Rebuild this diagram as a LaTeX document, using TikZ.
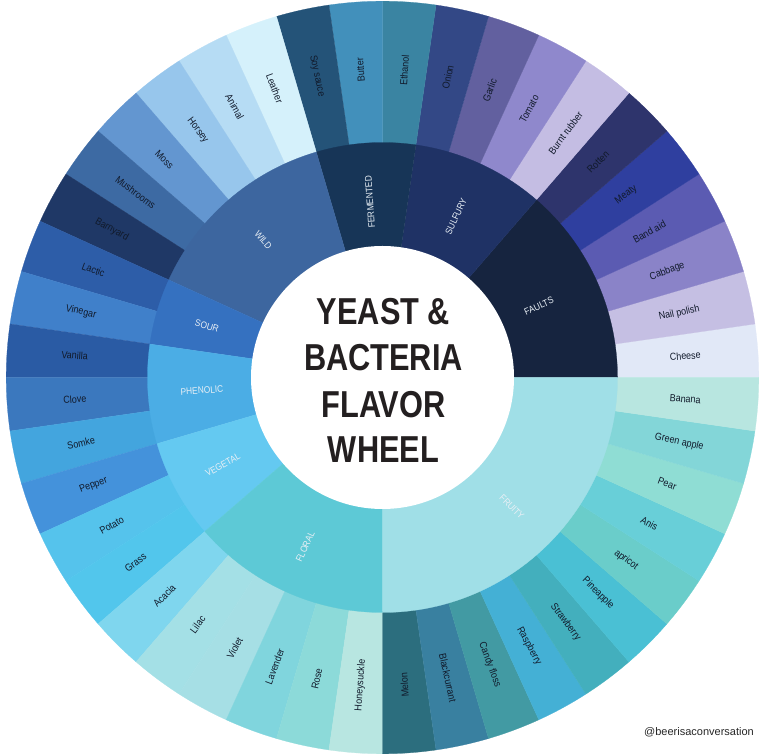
\documentclass[tikz,border=0pt]{standalone}
\usepackage{fontspec}
\setmainfont{Liberation Sans}
\newfontfamily\labelfont[FakeStretch=0.88]{Liberation Sans}
\newfontfamily\titlefont[FakeStretch=0.82]{Liberation Sans Bold}
\newfontfamily\creditfont{Liberation Sans}
\definecolor{labelink}{HTML}{111A2B}
\definecolor{innerink}{HTML}{E8EFF5}
\definecolor{titleink}{HTML}{231F20}
\tikzset{
  outerlabel/.style={font=\labelfont\fontsize{10.2}{12}\selectfont,text=labelink,inner sep=0pt},
  innerlabel/.style={font=\labelfont\fontsize{9.5}{12}\selectfont,text=innerink,inner sep=0pt},
  titleline/.style={font=\titlefont\fontsize{37.5}{40}\selectfont,text=titleink,inner sep=0pt,anchor=center},
  credit/.style={font=\creditfont\fontsize{11}{12}\selectfont,text=black!85,inner sep=0pt},
  hole/.style={fill=white}
}
\newcommand{\wedgefill}[5]{% color, from, to, r1, r2
  \definecolor{wc}{HTML}{#1}
  \path[fill=wc,draw=wc,line width=.25pt] (#2:#4pt) arc[start angle=#2,end angle=#3,radius=#4pt]
     -- (#3:#5pt) arc[start angle=#3,end angle=#2,radius=#5pt] -- cycle;
}
\begin{document}
\begin{tikzpicture}[x=1pt,y=1pt]
\useasboundingbox (0,0) rectangle (768,755);
\begin{scope}[shift={(382.5,377.5)}]
  % outer ring
  \foreach \lab/\col [count=\i from 0] in {
    Cheese/E1E8F7,Nail polish/C5BFE3,Cabbage/8A83C8,Band aid/5B5BB2,Meaty/2F3F9F,Rotten/2E346C,
    Burnt rubber/C4BDE3,Tomato/8F88CC,Garlic/62609F,Onion/334886,
    Ethanol/3A84A2,Butter/4290BB,Soy sauce/245378,
    Leather/D5F1FB,Animal/B6DCF4,Horsey/97C6EC,Moss/6396D0,Mushrooms/3D6AA3,Barnyard/1F3866,
    Lactic/2D5DA8,Vinegar/4080CA,
    Vanilla/2A5BA4,Clove/3B78BE,Somke/43A5DE,Pepper/4492DB,
    Potato/55C3EC,Grass/52C6EC,
    Acacia/7FD6EE,Lilac/A4E0E6,Violet/A6DFE5,Lavender/80D5DD,Rose/8CDAD9,Honeysuckle/B8E6E1,
    Melon/2C6E7E,Blackcurrant/3980A0,Candy floss/429AA3,Raspberry/44B0D5,Strawberry/43AFBD,
    Pineapple/4AC0D4,apricot/6ACDCA,Anis/68CFD8,Pear/8FDDD4,Green apple/83D6D8,Banana/B8E6E0}
  {
    \pgfmathsetmacro\aa{\i*360/44}
    \pgfmathsetmacro\bb{(\i+1)*360/44}
    \pgfmathsetmacro\mm{(\i+.5)*360/44}
    \pgfmathsetmacro\rot{\mm<98?\mm:(\mm<278?\mm-180:\mm-360)}
    \pgfmathsetmacro\rr{308.5-5*max(cos(\mm),0)}
    \wedgefill{\col}{\aa}{\bb}{234}{376.3}
    \node[outerlabel,rotate=\rot] (o\i) at (\mm:\rr pt) {\lab};
  }
  % middle ring
  \foreach \lab/\col/\from/\n/\rad in {
    FAULTS/16243F/0/6/172,SULFURY/1F3265/6/4/177,FERMENTED/173557/10/3/176,WILD/3D669F/13/6/182,
    SOUR/3571C0/19/2/183,PHENOLIC/4BADE5/21/3/181,VEGETAL/64C9F1/24/3/182,FLORAL/5DC9D6/27/6/186,
    FRUITY/A0DFE7/33/11/183}
  {
    \pgfmathsetmacro\aa{\from*360/44}
    \pgfmathsetmacro\bb{(\from+\n)*360/44}
    \pgfmathsetmacro\mm{(\from+\n/2)*360/44}
    \pgfmathsetmacro\rot{\mm<98?\mm:(\mm<278?\mm-180:\mm-360)}
    \wedgefill{\col}{\aa}{\bb}{120}{235}
    \node[innerlabel,rotate=\rot] (\lab) at (\mm:\rad pt) {\lab};
  }
  % centre
  \path[hole] (0,0) circle[radius=131.5pt];
  \node[titleline] (t1) at (1,65.5) {YEAST \&};
  \node[titleline] (t2) at (1,19.5) {BACTERIA};
  \node[titleline] (t3) at (1,-27.5) {FLAVOR};
  \node[titleline] (t4) at (1,-72.5) {WHEEL};
\end{scope}
\node[credit,anchor=east] (cr) at (754,22.5) {@beerisaconversation};
\end{tikzpicture}
\end{document}
